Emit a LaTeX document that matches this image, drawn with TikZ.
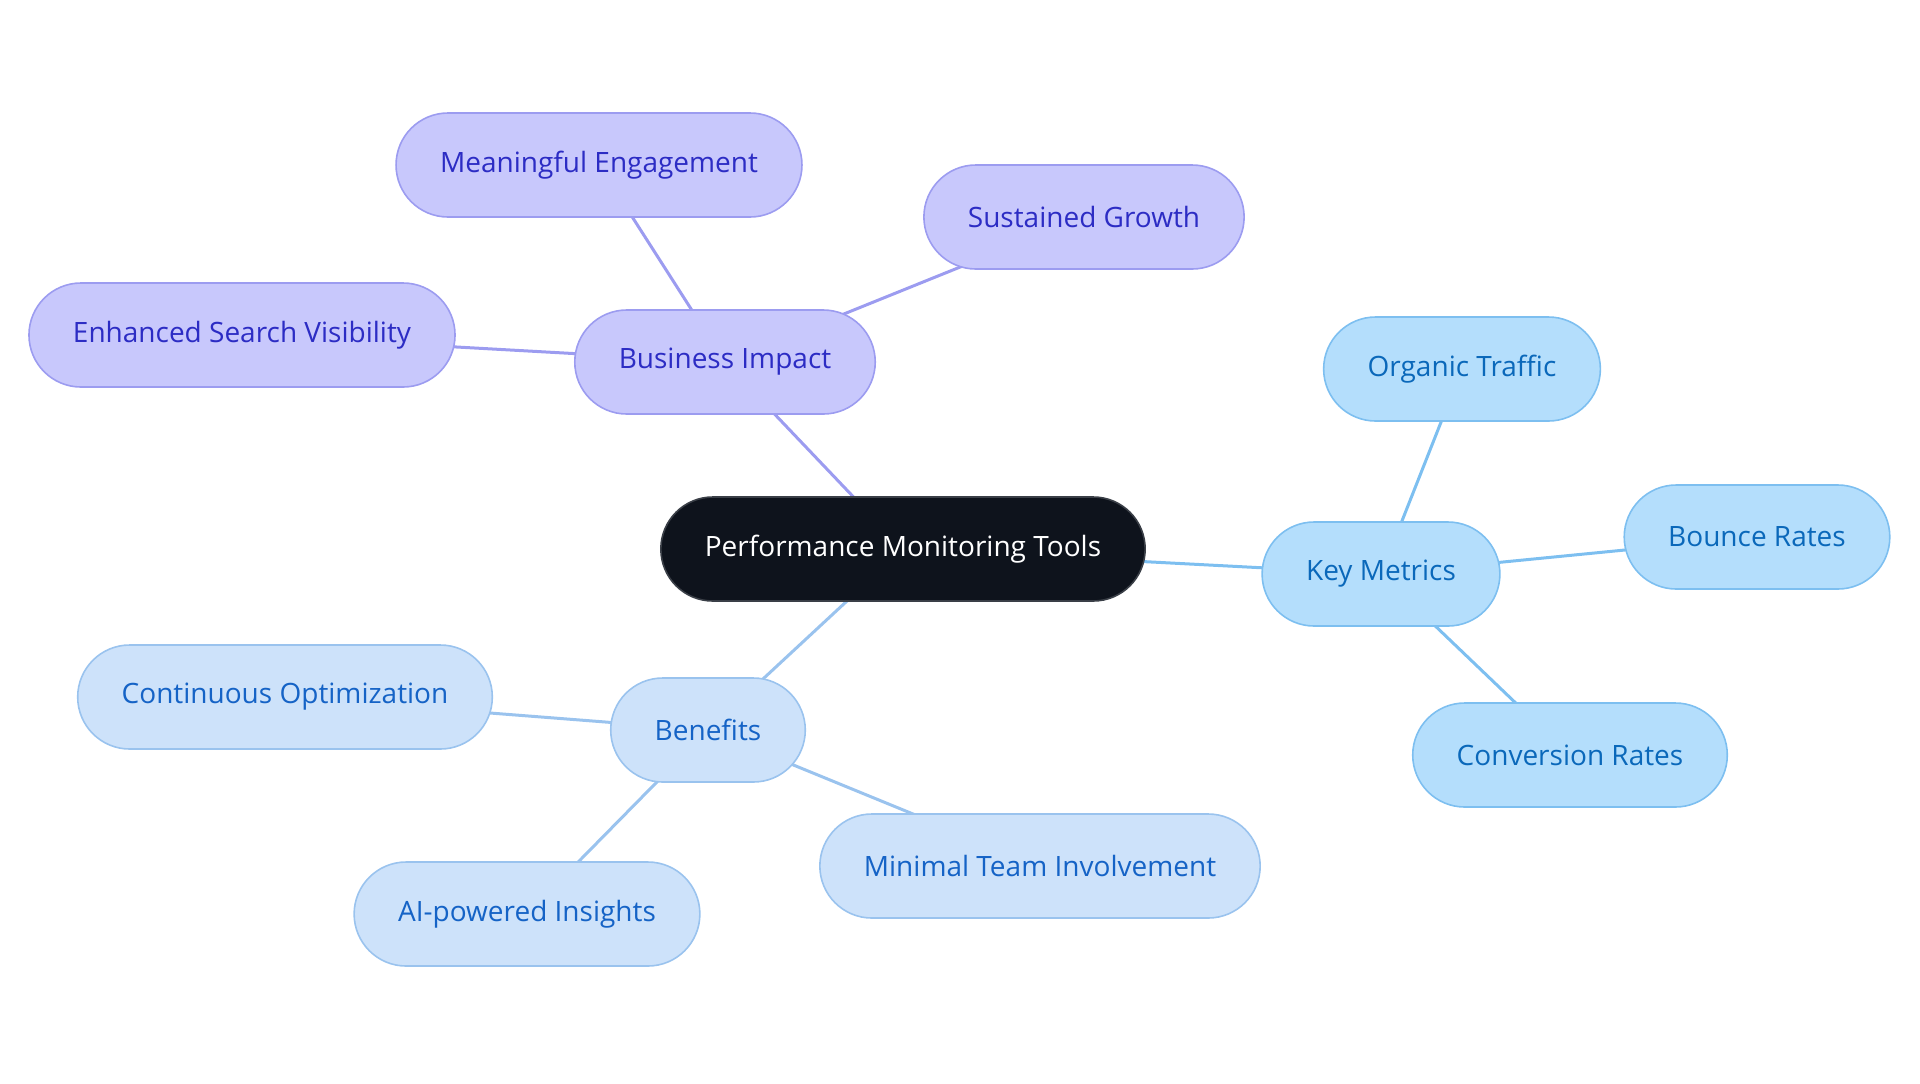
\documentclass[tikz,border=0pt]{standalone}
\usepackage{fontspec}
\setmainfont{Open Sans}
\usetikzlibrary{backgrounds}
\definecolor{rootfill}{HTML}{0E131C}
\definecolor{rootline}{HTML}{3A3F47}
\definecolor{bizfill}{HTML}{C8C8FC}
\definecolor{bizline}{HTML}{9C9CF0}
\definecolor{biztext}{HTML}{2C2CC4}
\definecolor{keyfill}{HTML}{B4DEFC}
\definecolor{keyline}{HTML}{7DBFF0}
\definecolor{keytext}{HTML}{0A68BA}
\definecolor{benfill}{HTML}{CDE2FA}
\definecolor{benline}{HTML}{9AC3EE}
\definecolor{bentext}{HTML}{1563C6}
\tikzset{
  pill/.style={rounded corners=26pt, minimum height=52pt, inner xsep=22pt, line width=0.8pt, font=\fontsize{14}{17}\selectfont},
  root/.style={pill, fill=rootfill, draw=rootline, text=white},
  biz/.style={pill, fill=bizfill, draw=bizline, text=biztext},
  key/.style={pill, fill=keyfill, draw=keyline, text=keytext},
  ben/.style={pill, fill=benfill, draw=benline, text=bentext},
  bizlink/.style={draw=bizline, line width=1.5pt},
  keylink/.style={draw=keyline, line width=1.5pt},
  benlink/.style={draw=benline, line width=1.5pt}
}
\begin{document}
\begin{tikzpicture}[x=0.5pt, y=-0.5pt]
            \useasboundingbox (0,0) rectangle (1920,1083);

            \node[root] (pmt) at (903,549) {Performance Monitoring Tools};

            \node[biz] (bi) at (725,362) {Business Impact};
            \node[biz] (me) at (599,165) {Meaningful Engagement};
            \node[biz] (sg) at (1084,217) {Sustained Growth};
            \node[biz] (esv) at (242,335) {Enhanced Search Visibility};

            \node[key] (km) at (1381,574) {Key Metrics};
            \node[key] (ot) at (1462,369) {Organic Traffic};
            \node[key] (br) at (1757,537) {Bounce Rates};
            \node[key] (cr) at (1570,755) {Conversion Rates};

            \node[ben] (bn) at (708,730) {Benefits};
            \node[ben] (co) at (285,697) {Continuous Optimization};
            \node[ben] (ai) at (527,914) {AI-powered Insights};
            \node[ben] (mti) at (1040,866) {Minimal Team Involvement};

            \begin{pgfonlayer}{background}
            \draw[bizlink] (pmt.center) -- (bi.center); \draw[bizlink] (bi.center) -- (me.center); \draw[bizlink] (bi.center) -- (sg.center); \draw[bizlink] (bi.center) -- (esv.center);
            \draw[keylink] (pmt.center) -- (km.center); \draw[keylink] (km.center) -- (ot.center); \draw[keylink] (km.center) -- (br.center); \draw[keylink] (km.center) -- (cr.center);
            \draw[benlink] (pmt.center) -- (bn.center); \draw[benlink] (bn.center) -- (co.center); \draw[benlink] (bn.center) -- (ai.center); \draw[benlink] (bn.center) -- (mti.center);
            \end{pgfonlayer}
        \end{tikzpicture}
\end{document}
